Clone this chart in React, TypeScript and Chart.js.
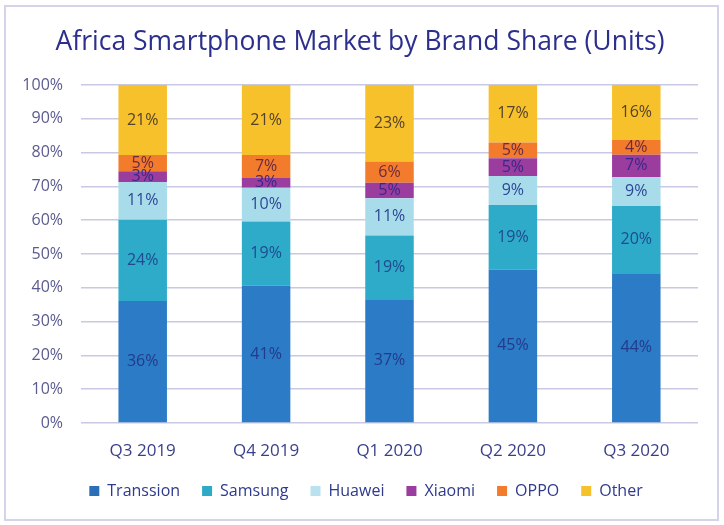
import React, { useEffect, useRef } from "react";
import { Chart, registerables } from "chart.js";

Chart.register(...registerables);

const categories = ["Q3 2019", "Q4 2019", "Q1 2020", "Q2 2020", "Q3 2020"];
const brands = ["Transsion", "Samsung", "Huawei", "Xiaomi", "OPPO", "Other"];
const transsion = [36.1, 40.6, 36.6, 45.4, 44.3];
const samsung = [24.0, 19.0, 18.9, 19.1, 19.9];
const huawei = [11.2, 10.0, 11.0, 8.6, 8.6];
const xiaomi = [3.2, 3.0, 4.6, 5.2, 6.6];
const oppo = [4.8, 6.7, 6.3, 4.7, 4.3];
const other = [20.7, 20.7, 22.6, 17.0, 16.3];
const yTicks = [0, 10, 20, 30, 40, 50, 60, 70, 80, 90, 100];

const seriesValues = [transsion, samsung, huawei, xiaomi, oppo, other];
const barColors = ["#2b7bc6", "#2eabc8", "#a9dcea", "#9a3d9f", "#f37b2c", "#f6c12b"];
const legendColors = ["#2b6fb8", "#2eaac6", "#b9e2ee", "#9a3d9f", "#f37b2c", "#f6c12b"];
const labelColors = ["#243a8a", "#1f4a90", "#2c4796", "#382888", "#6a2a42", "#54422e"];

const FONT = "'Open Sans', 'Noto Sans', sans-serif";

export default function App() {
  const ref = useRef<HTMLCanvasElement | null>(null);

  useEffect(() => {
    if (!ref.current) return;

    const framePlugin = {
      id: "frame",
      beforeDraw(chart: any) {
        const ctx = chart.ctx;
        ctx.save();
        ctx.fillStyle = "#ffffff";
        ctx.fillRect(0, 0, chart.width, chart.height);
        ctx.strokeStyle = "#d3d3ea";
        ctx.lineWidth = 2;
        ctx.strokeRect(5, 6, 713, 514);
        ctx.fillStyle = "#2c2f8c";
        ctx.font = `26.5px ${FONT}`;
        ctx.textAlign = "center";
        ctx.textBaseline = "middle";
        ctx.fillText("Africa Smartphone Market by Brand Share (Units)", 360, 42);
        ctx.restore();
      },
      afterDraw(chart: any) {
        const ctx = chart.ctx;
        ctx.save();
        ctx.font = `16px ${FONT}`;
        ctx.textBaseline = "middle";
        ctx.textAlign = "left";
        const box = 10;
        const gap = 8;
        const itemGap = 22;
        const items = chart.data.datasets.map((d: any, i: number) => ({
          label: d.label,
          color: legendColors[i],
          w: box + gap + ctx.measureText(d.label).width,
        }));
        const total = items.reduce((s: number, it: any) => s + it.w, 0) + itemGap * (items.length - 1);
        let x = 366 - total / 2;
        const y = 491;
        items.forEach((it: any) => {
          ctx.fillStyle = it.color;
          ctx.fillRect(x, y - box / 2, box, box);
          ctx.fillStyle = "#2e3a8c";
          ctx.fillText(it.label, x + box + gap, y);
          x += it.w + itemGap;
        });
        ctx.restore();
      },
    };

    const labelPlugin = {
      id: "segLabels",
      afterDatasetsDraw(chart: any) {
        const ctx = chart.ctx;
        ctx.save();
        ctx.font = `16px ${FONT}`;
        ctx.textAlign = "center";
        ctx.textBaseline = "middle";
        chart.data.datasets.forEach((ds: any, di: number) => {
          const meta = chart.getDatasetMeta(di);
          meta.data.forEach((bar: any, i: number) => {
            const v = ds.data[i];
            const cy = (bar.y + bar.base) / 2;
            ctx.fillStyle = labelColors[di];
            ctx.fillText(`${Math.round(v)}%`, bar.x, cy);
          });
        });
        ctx.restore();
      },
    };

    const chart = new Chart(ref.current, {
      type: "bar",
      data: {
        labels: categories,
        datasets: brands.map((b, i) => ({
          label: b,
          data: seriesValues[i],
          backgroundColor: barColors[i],
          borderWidth: 0,
          barPercentage: 0.393,
          categoryPercentage: 1,
        })),
      },
      options: {
        animation: false,
        responsive: false,
        devicePixelRatio: 1,
        layout: { padding: { left: 0, right: 26, top: 85, bottom: 56 } },
        plugins: {
          legend: { display: false },
          title: { display: false },
          tooltip: { enabled: false },
        },
        scales: {
          x: {
            stacked: true,
            grid: { display: false },
            border: { display: false },
            ticks: {
              color: "#3a3f8a",
              font: { family: FONT, size: 17 },
              padding: 10,
            },
            afterFit(scale: any) {
              scale.height = 46;
            },
          },
          y: {
            stacked: true,
            min: 0,
            max: 100,
            afterBuildTicks(scale: any) {
              scale.ticks = yTicks.map((v) => ({ value: v }));
            },
            grid: { color: "#c9c9e4", lineWidth: 1.5, drawTicks: false },
            border: { display: false },
            ticks: {
              color: "#5a5b8e",
              font: { family: FONT, size: 16 },
              padding: 18,
              callback: (v: any) => `${v}%`,
            },
            afterFit(scale: any) {
              scale.width = 81;
            },
          },
        },
      },
      plugins: [framePlugin, labelPlugin],
    });

    return () => chart.destroy();
  }, []);

  return (
    <div style={{ position: "fixed", left: 0, top: 0, width: 724, height: 525 }}>
      <canvas ref={ref} width={724} height={525} style={{ width: 724, height: 525 }} />
    </div>
  );
}
